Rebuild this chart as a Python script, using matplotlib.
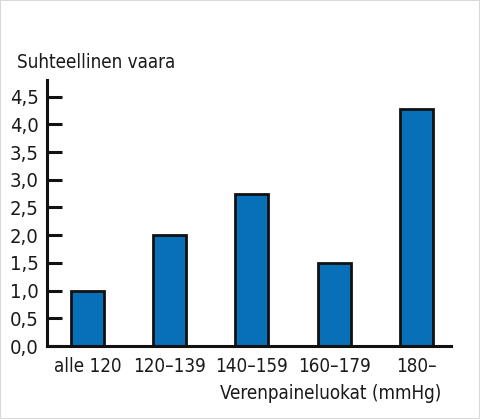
import matplotlib
matplotlib.use("Agg")
import matplotlib.pyplot as plt
from matplotlib.patches import Rectangle

categories = ["alle 120", "120\u2013139", "140\u2013159", "160\u2013179", "180\u2013"]
values = [1.0, 2.0, 2.75, 1.5, 4.27]
yticks = [0.0, 0.5, 1.0, 1.5, 2.0, 2.5, 3.0, 3.5, 4.0, 4.5]
ytick_labels = ["0,0", "0,5", "1,0", "1,5", "2,0", "2,5", "3,0", "3,5", "4,0", "4,5"]

plt.rcParams["font.family"] = ["DejaVu Sans"]
plt.rcParams["font.stretch"] = "condensed"  # closest to the narrow original face
txt = "#1a1a1a"

W, H = 480, 419
fig = plt.figure(figsize=(W / 100, H / 100), dpi=100)
# axes in pixel coords: x 47..451, y 80..346 (from top)
ax = fig.add_axes([47 / W, 1 - 346 / H, (451 - 47) / W, (346 - 80) / H])

xs = range(len(categories))
ax.bar(xs, values, width=0.4, color="#0770b8", edgecolor="#111111", linewidth=2, zorder=2)

ax.set_xlim(-0.49, 4.42)
ax.set_ylim(0, 4.8)
ax.set_yticks(yticks)
ax.set_yticklabels(ytick_labels)
ax.set_xticks(list(xs))
ax.set_xticklabels(categories)

for s in ["top", "right"]:
    ax.spines[s].set_visible(False)
for s in ["left", "bottom"]:
    ax.spines[s].set_linewidth(2.2)
    ax.spines[s].set_color("#111111")

ax.tick_params(axis="y", direction="in", length=11, width=2.2, color="#111111",
               labelsize=14.5, labelcolor=txt, pad=6)
ax.tick_params(axis="x", length=0, labelsize=13.5, labelcolor=txt, pad=8)

fig.text(17 / W, 1 - 63 / H, "Suhteellinen vaara", fontsize=13.5, color=txt,
         ha="left", va="center")
fig.text(441 / W, 1 - 393 / H, "Verenpaineluokat (mmHg)", fontsize=13.5, color=txt,
         ha="right", va="center")

# thin light border around the picture
fig.patches.append(Rectangle((0, 0), 1, 1, transform=fig.transFigure, fill=False,
                             edgecolor="#d8d8d8", linewidth=1.5))

fig.savefig("out.png", dpi=100)
